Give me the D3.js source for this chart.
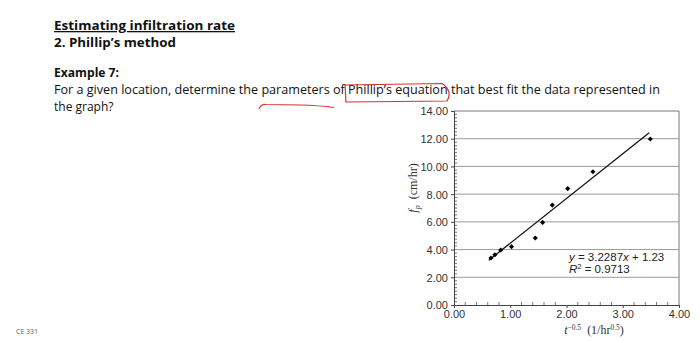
<!DOCTYPE html>
<html>
<head>
<meta charset="utf-8">
<script src="https://cdn.jsdelivr.net/npm/d3@7"></script>
<style>
  html, body { margin: 0; padding: 0; background: #fff; }
  svg { display: block; }
</style>
</head>
<body>
<div id="chart"></div>
<script>
// ---- data ----
const xValues = [0.657, 0.728, 0.830, 1.022, 1.445, 1.575, 1.748, 2.022, 2.470, 3.490];
const yValues = [3.39, 3.63, 3.97, 4.21, 4.84, 5.96, 7.21, 8.40, 9.62, 11.98];
const fitSlope = 3.2287;
const fitIntercept = 1.23;
const fitXRange = [0.62, 3.47];
const xTicks = [0, 1, 2, 3, 4];
const yTicks = [0, 2, 4, 6, 8, 10, 12, 14];
const eqText = "3.2287";
const eqIntercept = "1.23";
const r2Text = "0.9713";

const W = 700, H = 343;
const svg = d3.select("#chart").append("svg").attr("width", W).attr("height", H);

// ---- slide text ----
const sans = "'Open Sans', Lato, sans-serif";
const head = svg.append("g").attr("font-family", sans).attr("fill", "#111");
function fitText(sel, w) {
  const n = sel.node();
  const cur = n.getComputedTextLength();
  if (cur > 0) sel.attr("textLength", w).attr("lengthAdjust", "spacingAndGlyphs");
  return sel;
}
fitText(head.append("text").attr("x", 54).attr("y", 30).attr("font-size", 13).attr("font-weight", "bold")
  .attr("text-decoration", "underline").text("Estimating infiltration rate"), 181);
fitText(head.append("text").attr("x", 54).attr("y", 47).attr("font-size", 13).attr("font-weight", "bold")
  .text("2. Phillip\u2019s method"), 122);
fitText(head.append("text").attr("x", 54).attr("y", 77).attr("font-size", 13).attr("font-weight", "bold")
  .text("Example 7:"), 65);
fitText(head.append("text").attr("x", 54).attr("y", 94).attr("font-size", 12)
  .text("For a given location, determine the parameters of Phillip\u2019s equation that best fit the data represented in"), 606);
head.append("text").attr("x", 54).attr("y", 110.5).attr("font-size", 12).text("the graph?");
svg.append("text").attr("x", 16).attr("y", 334).attr("font-family", sans).attr("font-size", 7)
  .attr("fill", "#666").text("CE 331");

// red hand annotations
svg.append("path").attr("d", "M259,109 Q261,104 266,104.5 L300,105 Q320,105.5 334,107.5")
  .attr("fill", "none").attr("stroke", "#d8332e").attr("stroke-width", 1.2);
svg.append("path").attr("d", "M345,85 L442,83.5 Q453,91 447,101 L346,102 Z")
  .attr("fill", "none").attr("stroke", "#d8332e").attr("stroke-width", 1.2);

// ---- chart ----
const x = d3.scaleLinear().domain([0, 4]).range([454, 679]);
const y = d3.scaleLinear().domain([0, 14]).range([305, 111]);
const g = svg.append("g");

// gridlines
g.selectAll("line.grid").data(yTicks.filter(t => t > 0 && t < 14)).enter().append("line")
  .attr("x1", x(0)).attr("x2", x(4)).attr("y1", d => y(d)).attr("y2", d => y(d))
  .attr("stroke", "#9a9a9a").attr("stroke-width", 1);

// frame top/right
g.append("line").attr("x1", x(0)).attr("x2", x(4)).attr("y1", y(14)).attr("y2", y(14))
  .attr("stroke", "#777").attr("stroke-width", 1);
g.append("line").attr("x1", x(4)).attr("x2", x(4)).attr("y1", y(0)).attr("y2", y(14))
  .attr("stroke", "#777").attr("stroke-width", 1);

// minor ticks
const yMinor = d3.range(0, 14.001, 0.25).filter(v => Math.abs(v / 2 - Math.round(v / 2)) > 1e-6);
const xMinor = d3.range(0, 4.001, 0.2).filter(v => Math.abs(v - Math.round(v)) > 1e-6);
const tickG = g.append("g").attr("stroke", "#555").attr("stroke-width", 0.8);
tickG.selectAll("line.ym").data(yMinor).enter().append("line")
  .attr("x1", x(0)).attr("x2", x(0) + 3).attr("y1", d => y(d)).attr("y2", d => y(d));
tickG.selectAll("line.xm").data(xMinor).enter().append("line")
  .attr("x1", d => x(d)).attr("x2", d => x(d)).attr("y1", y(0)).attr("y2", y(0) - 3);

// axes
const yAxis = d3.axisLeft(y).tickValues(yTicks).tickFormat(d3.format(".2f")).tickSize(3).tickPadding(3);
const xAxis = d3.axisBottom(x).tickValues(xTicks).tickFormat(d3.format(".2f")).tickSize(3).tickPadding(3);
const ya = g.append("g").attr("transform", `translate(${x(0)},0)`).call(yAxis);
const xa = g.append("g").attr("transform", `translate(0,${y(0)})`).call(xAxis);
[ya, xa].forEach(a => {
  a.select(".domain").attr("stroke", "#444");
  a.selectAll(".tick line").attr("stroke", "#444");
  a.selectAll("text").attr("font-family", "'Liberation Sans', Arial, sans-serif")
    .attr("font-size", 11).attr("fill", "#333");
});
ya.selectAll(".tick text").attr("dy", "0.36em");
xa.selectAll(".tick text").attr("dy", "0.6em");

// fit line
g.append("line")
  .attr("x1", x(fitXRange[0])).attr("y1", y(fitSlope * fitXRange[0] + fitIntercept))
  .attr("x2", x(fitXRange[1])).attr("y2", y(fitSlope * fitXRange[1] + fitIntercept))
  .attr("stroke", "#111").attr("stroke-width", 1.3);

// points
const pts = xValues.map((v, i) => [v, yValues[i]]);
g.selectAll("path.pt").data(pts).enter().append("path")
  .attr("d", d3.symbol().type(d3.symbolSquare).size(13))
  .attr("transform", d => `translate(${x(d[0])},${y(d[1])}) rotate(45)`)
  .attr("fill", "#000");

// equation annotation
const ann = g.append("g").attr("font-family", "'Liberation Sans', Arial, sans-serif")
  .attr("font-size", 11.5).attr("fill", "#222");
const t1 = ann.append("text").attr("x", 569).attr("y", 261);
t1.append("tspan").attr("font-style", "italic").text("y");
t1.append("tspan").text(" = " + eqText);
t1.append("tspan").attr("font-style", "italic").text("x");
t1.append("tspan").text(" + " + eqIntercept);
const t2 = ann.append("text").attr("x", 569).attr("y", 273);
t2.append("tspan").attr("font-style", "italic").text("R");
t2.append("tspan").attr("font-size", 7.5).attr("dy", -4).text("2");
t2.append("tspan").attr("dy", 4).text(" = " + r2Text);

// axis titles (serif)
const serif = "'Liberation Serif', 'Times New Roman', serif";
const yt = g.append("text").attr("transform", "translate(417,188) rotate(-90)")
  .attr("text-anchor", "middle").attr("font-family", serif).attr("font-size", 12).attr("fill", "#333");
yt.append("tspan").attr("font-style", "italic").text("f");
yt.append("tspan").attr("font-style", "italic").attr("font-size", 8).attr("dy", 3).text("p");
yt.append("tspan").attr("dy", -3).text("\u2002(cm/hr)");

const xt = g.append("text").attr("x", 594).attr("y", 334)
  .attr("text-anchor", "middle").attr("font-family", serif).attr("font-size", 12).attr("fill", "#333");
xt.append("tspan").attr("font-style", "italic").text("t");
xt.append("tspan").attr("font-size", 7.5).attr("dy", -4).text("\u22120.5");
xt.append("tspan").attr("dy", 4).text("\u2002(1/hr");
xt.append("tspan").attr("font-size", 7.5).attr("dy", -4).text("0.5");
xt.append("tspan").attr("dy", 4).text(")");
</script>
</body>
</html>
